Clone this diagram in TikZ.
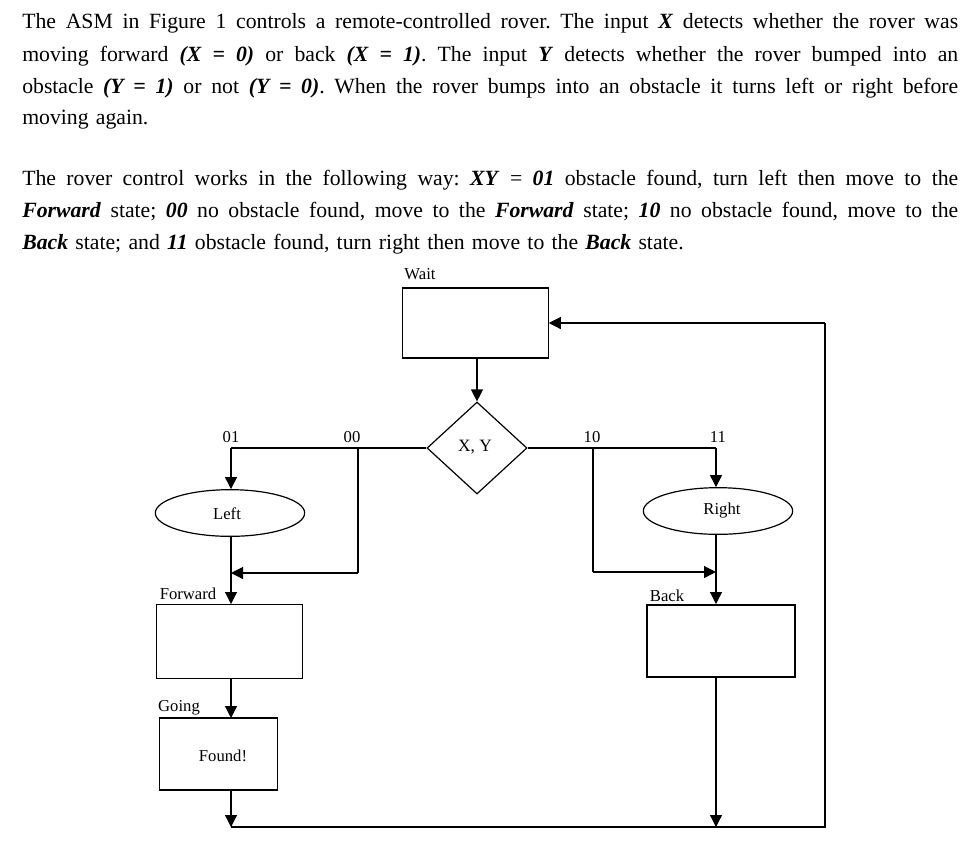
\documentclass[tikz,border=0pt]{standalone}
\usepackage{fontspec}
\setmainfont{Liberation Serif}
\usetikzlibrary{arrows.meta,shapes.geometric}
\begin{document}
\frenchspacing
\begin{tikzpicture}[x=0.75pt,y=-0.75pt,
  line/.style={line width=0.9pt},
  arr/.style={line, -{Triangle[length=9pt,width=9pt]}},
  para/.style={anchor=base west, inner sep=0pt, text width=702pt, font=\fontsize{16.3}{18}\selectfont, align=justify},
  lab/.style={inner sep=0pt, font=\fontsize{12.5}{14}\selectfont},
  box/.style={draw, line width=0.9pt, inner sep=0pt}]
\useasboundingbox (0,0) rectangle (974,840);
% text
\newcommand{\jl}[1]{{\parfillskip=0pt #1\par}}
\node[para] (t1) at (22,28) {\jl{The ASM in Figure 1 controls a remote-controlled rover. The input \textbf{\textit{X}} detects whether the rover was}};
\node[para] (t2) at (22,61) {\jl{moving forward \textbf{\textit{(X = 0)}} or back \textbf{\textit{(X = 1)}}. The input \textbf{\textit{Y}} detects whether the rover bumped into an}};
\node[para] (t3) at (22,93) {\jl{obstacle \textbf{\textit{(Y = 1)}} or not \textbf{\textit{(Y = 0)}}. When the rover bumps into an obstacle it turns left or right before}};
\node[para,align=left] (t4) at (22,124) {moving again.};
\node[para] (t5) at (22,185) {\jl{The rover control works in the following way: \textbf{\textit{XY}} = \textbf{\textit{01}} obstacle found, turn left then move to the}};
\node[para] (t6) at (22,217) {\jl{\textbf{\textit{Forward}} state; \textbf{\textit{00}} no obstacle found, move to the \textbf{\textit{Forward}} state; \textbf{\textit{10}} no obstacle found, move to the}};
\node[para,align=left] (t7) at (22,249) {\textbf{\textit{Back}} state; and \textbf{\textit{11}} obstacle found, turn right then move to the \textbf{\textit{Back}} state.};
% boxes
\node[box, minimum width=109pt, minimum height=52.5pt] (wait) at (475.5,323) {};
\node[lab] (waitl) at (420,274) {Wait};
\node[box, diamond, aspect=1.05, minimum width=75pt, minimum height=69pt] (dia) at (477,448) {};
\node[lab, font=\fontsize{13}{14}\selectfont] (diat) at (475,447) {X, Y};
\node[box, ellipse, minimum width=112pt, minimum height=35pt] (left) at (230,513) {};
\node[lab] (leftt) at (227,514) {Left};
\node[box, ellipse, minimum width=112pt, minimum height=35pt] (right) at (718,511) {};
\node[lab] (rightt) at (722,511) {Right};
\node[box, minimum width=109pt, minimum height=55pt] (fwd) at (229.5,641.5) {};
\node[lab] (fwdl) at (188,594) {Forward};
\node[box, minimum width=88pt, minimum height=54pt] (found) at (218.5,754) {};
\node[lab] (foundt) at (223,756) {Found!};
\node[lab] (going) at (179,708) {Going};
\node[box, minimum width=111pt, minimum height=54pt] (back) at (721,641) {};
\node[lab] (backl) at (667,596) {Back};
\node[lab] (l01) at (231,437) {01};
\node[lab] (l00) at (352,437) {00};
\node[lab] (l10) at (592,437) {10};
\node[lab] (l11) at (718,437) {11};
% coordinates
\coordinate (a01) at (231,448);
\coordinate (a00) at (358,448);
\coordinate (m00) at (358,573);
\coordinate (j0) at (231,573);
\coordinate (ftop) at (231,604);
\coordinate (gtop) at (231,718);
\coordinate (fb) at (231,827);
\coordinate (a10) at (593,448);
\coordinate (m10) at (593,572);
\coordinate (j1) at (716,572);
\coordinate (a11) at (716,448);
\coordinate (btop) at (716,604);
\coordinate (bb) at (716,827);
\coordinate (rc) at (825,827);
\coordinate (rt) at (825,323);
% connectors
\draw[arr] (wait.south -| dia.north) -- (dia.north);
\draw[line] (dia.west) -- (a01);
\draw[arr] (a01) -- (left.north -| a01);
\draw[line] (a00) -- (m00);
\draw[arr] (m00) -- (j0);
\draw[arr] (left.south -| a01) -- (ftop);
\draw[arr] (fwd.south -| a01) -- (gtop);
\draw[arr] (found.south -| a01) -- (fb);
\draw[line] (dia.east) -- (a11);
\draw[arr] (a11) -- (right.north -| a11);
\draw[line] (a10) -- (m10);
\draw[arr] (m10) -- (j1);
\draw[arr] (right.south -| a11) -- (btop);
\draw[arr] (back.south -| a11) -- (bb);
\draw[line] (fb) -- (rc) -- (rt);
\draw[arr] (rt) -- (wait.east);
\end{tikzpicture}
\end{document}
